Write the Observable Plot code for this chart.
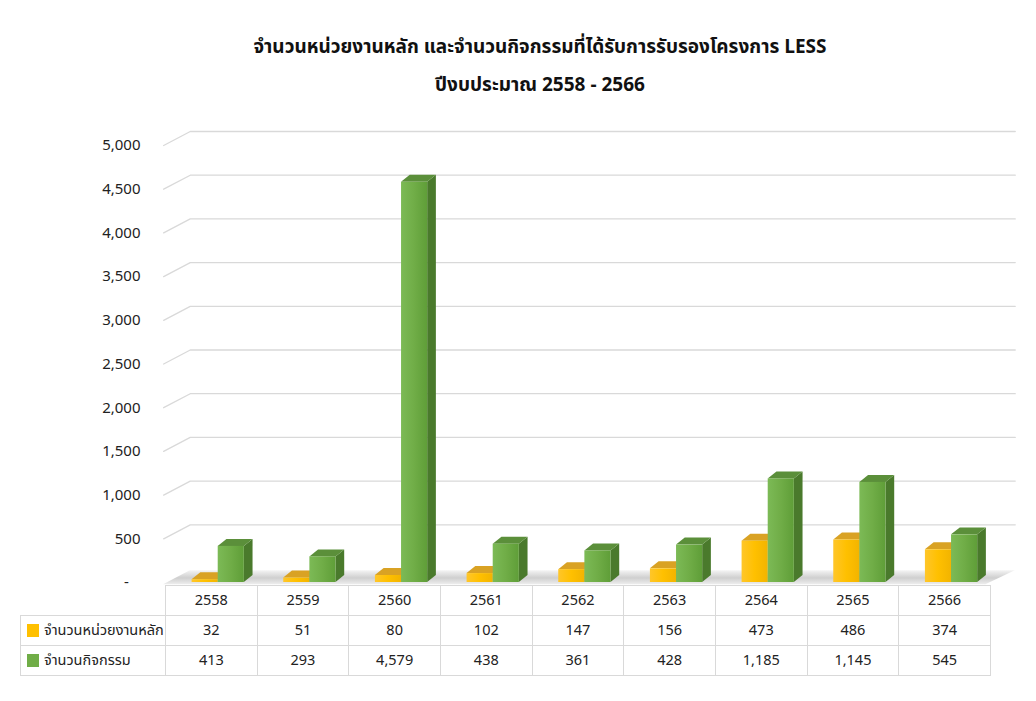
<!DOCTYPE html>
<html>
<head>
<meta charset="utf-8">
<script src="https://cdn.jsdelivr.net/npm/d3@7"></script>
<script src="https://cdn.jsdelivr.net/npm/@observablehq/plot@0.6"></script>
<style>
  html, body { margin: 0; padding: 0; background: #fff; }
  body { font-family: "Noto Sans Thai", "Noto Sans", "DejaVu Sans", sans-serif; color: #222; }
  #wrap { position: relative; width: 1036px; height: 701px; }
  #title { position: absolute; left: 0; top: 0; width: 1080px; text-align: center; font-weight: bold; font-size: 19px; color: #111; }
  #title div { position: absolute; width: 100%; }
  #chart { position: absolute; left: 0; top: 110px; }
  #tbl { position: absolute; left: 20px; top: 585px; border-collapse: collapse; table-layout: fixed; width: 970px; font-size: 14.5px; color: #222; }
  #tbl td { border: 1px solid #d9d9d9; text-align: center; padding: 0; }
  #tbl td.lab { text-align: left; padding-left: 6px; white-space: nowrap; }
  #tbl td.blank { border: none; border-right: 1px solid #d9d9d9; }
  .sw { display: inline-block; width: 12px; height: 13px; vertical-align: -2px; margin-right: 5px; }
</style>
</head>
<body>
<svg width="0" height="0" style="position:absolute">
  <defs>
    <linearGradient id="gYel" x1="0" x2="1" y1="0" y2="0">
      <stop offset="0" stop-color="#ffc62a"/>
      <stop offset="0.5" stop-color="#ffc000"/>
      <stop offset="1" stop-color="#f2b400"/>
    </linearGradient>
    <linearGradient id="gGrn" x1="0" x2="1" y1="0" y2="0">
      <stop offset="0" stop-color="#7cba56"/>
      <stop offset="0.5" stop-color="#70ad47"/>
      <stop offset="1" stop-color="#5f9e38"/>
    </linearGradient>
    <linearGradient id="gFloor" x1="0" x2="0" y1="0" y2="1">
      <stop offset="0" stop-color="#f4f4f4"/>
      <stop offset="0.55" stop-color="#cfcfcf"/>
      <stop offset="1" stop-color="#ededed"/>
    </linearGradient>
  </defs>
</svg>
<div id="wrap">
  <div id="title">
    <div style="top:33px">จำนวนหน่วยงานหลัก และจำนวนกิจกรรมที่ได้รับการรับรองโครงการ LESS</div>
    <div style="top:71px">ปีงบประมาณ 2558 - 2566</div>
  </div>
  <div id="chart"></div>
  <table id="tbl"></table>
</div>
<script>
// ---- data ----
const years = ["2558", "2559", "2560", "2561", "2562", "2563", "2564", "2565", "2566"];
const seriesNames = ["จำนวนหน่วยงานหลัก", "จำนวนกิจกรรม"];
const units = [32, 51, 80, 102, 147, 156, 473, 486, 374];
const activities = [413, 293, 4579, 438, 361, 428, 1185, 1145, 545];
const yTicks = [0, 500, 1000, 1500, 2000, 2500, 3000, 3500, 4000, 4500, 5000];

// ---- style / layout constants ----
const seriesValues = [units, activities];
const fronts = ["url(#gYel)", "url(#gGrn)"];
const tops = ["#d9a224", "#5b8f3a"];
const sides = ["#c48f12", "#4a7a2c"];
const swatches = ["#ffc000", "#70ad47"];
const barStart = 0.29, barW = 0.285;   // in category units
const depX = 0.095, depY = 80;          // bar depth
const wallX = 0.27, wallY = 160;        // back wall offset

const fmt = d3.format(",");

const bars = [];
seriesValues.forEach((vals, s) => {
  vals.forEach((v, i) => {
    const x1 = i + barStart + s * barW;
    bars.push({s, i, key: s + "-" + i, v, x1, x2: x1 + barW});
  });
});

function sideData(s) {
  return bars.filter(b => b.s === s).flatMap(b => [
    {key: b.key, x: b.x2, y1: 0, y2: b.v},
    {key: b.key, x: b.x2 + depX, y1: depY, y2: b.v + depY}
  ]);
}
function topData(s) {
  return bars.filter(b => b.s === s).flatMap(b => [
    {key: b.key, y: b.v, x1: b.x1, x2: b.x2},
    {key: b.key, y: b.v + depY, x1: b.x1 + depX, x2: b.x2 + depX}
  ]);
}

const n = years.length;
const grid = yTicks.filter(t => t > 0).flatMap(t => [
  {t, x: -0.02, y: t},
  {t, x: wallX, y: t + wallY},
  {t, x: n + wallX, y: t + wallY}
]);
const floor = [
  {y: -25, x1: -0.02, x2: n - 0.05},
  {y: wallY - 25, x1: wallX, x2: n + wallX}
];

const marks = [
  Plot.line(grid, {x: "x", y: "y", z: "t", stroke: "#d9d9d9", strokeWidth: 1.3}),
  Plot.areaX(floor, {y: "y", x1: "x1", x2: "x2", fill: "url(#gFloor)"}),
  Plot.axisY({ticks: yTicks, tickSize: 0, tickPadding: 25, fontSize: 15,
    tickFormat: d => d === 0 ? "-\u00a0\u00a0\u00a0" : fmt(d)}),
];
[0, 1].forEach(s => {
  marks.push(
    Plot.areaY(sideData(s), {x: "x", y1: "y1", y2: "y2", z: "key", fill: sides[s]}),
    Plot.areaX(topData(s), {y: "y", x1: "x1", x2: "x2", z: "key", fill: tops[s]}),
    Plot.rectY(bars.filter(b => b.s === s), {x1: "x1", x2: "x2", y1: 0, y2: "v", fill: fronts[s]})
  );
});

const chart = Plot.plot({
  width: 1036,
  height: 480,
  marginLeft: 165,
  marginRight: 46,
  marginTop: 35,
  marginBottom: 8,
  x: {domain: [0, n], axis: null},
  y: {domain: [0, 5000], axis: null},
  style: {fontFamily: "'Noto Sans Thai', 'Noto Sans', 'DejaVu Sans', sans-serif", color: "#222", overflow: "visible"},
  marks
});
document.getElementById("chart").appendChild(chart);

// ---- data table ----
const tbl = document.getElementById("tbl");
let html = '<colgroup><col style="width:145px">' + years.map(() => '<col style="width:91.67px">').join("") + '</colgroup>';
html += '<tr style="height:30px"><td class="blank"></td>' +
  years.map(y => '<td>' + y + '</td>').join("") + '</tr>';
seriesValues.forEach((vals, s) => {
  html += '<tr style="height:30px"><td class="lab"><span class="sw" style="background:' + swatches[s] + '"></span>' +
    seriesNames[s] + '</td>' + vals.map(v => '<td>' + fmt(v) + '</td>').join("") + '</tr>';
});
tbl.innerHTML = html;
</script>
</body>
</html>
